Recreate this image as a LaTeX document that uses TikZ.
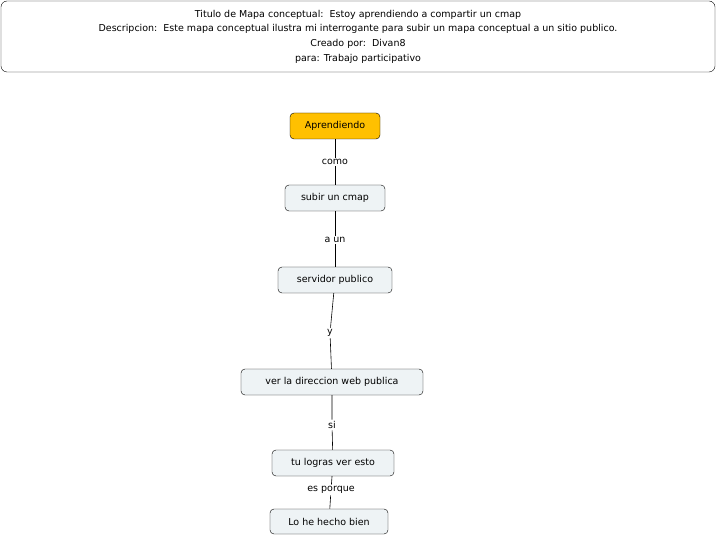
\documentclass[tikz,border=0pt]{standalone}
\usepackage{fontspec}
\setmainfont{DejaVu Sans}
\begin{document}
\begin{tikzpicture}[x=1pt,y=1pt,
  box/.style={draw=black,rounded corners=4pt,fill=boxfill,font=\fontsize{9.5}{11}\selectfont,minimum height=26pt,inner sep=0pt},
  lab/.style={font=\fontsize{9.5}{11}\selectfont,inner sep=1.5pt,fill=white},
  con/.style={draw=black,line width=0.6pt}]
\definecolor{boxfill}{HTML}{EEF3F5}
\definecolor{orng}{HTML}{FFC000}
\useasboundingbox (0,0) rectangle (717,536);
\node[draw=black,rounded corners=6pt,minimum width=714pt,minimum height=71pt,align=center,font=\fontsize{9.5}{14.7}\selectfont,inner sep=0pt] (hdr) at (358,499.5)
 {Titulo de Mapa conceptual:\ \ Estoy aprendiendo a compartir un cmap\\
  Descripcion:\ \ Este mapa conceptual ilustra mi interrogante para subir un mapa conceptual a un sitio publico.\\
  Creado por:\ \ Divan8\\ para: Trabajo participativo};
\node[box,fill=orng,minimum width=90pt] (a) at (335,410) {Aprendiendo};
\node[box,minimum width=100pt] (b) at (335,338) {subir un cmap};
\node[box,minimum width=114pt] (c) at (335,256) {servidor publico};
\node[box,minimum width=182pt] (d) at (332,154) {ver la direccion web publica};
\node[box,minimum width=122pt] (e) at (333,73) {tu logras ver esto};
\node[box,minimum width=118pt,minimum height=25pt] (f) at (329,14.5) {Lo he hecho bien};
\node[lab] (l1) at (335,374) {como};
\node[lab] (l2) at (335,296) {a un};
\node[lab] (l3) at (330,203) {y};
\node[lab] (l4) at (332,111) {si};
\node[lab] (l5) at (331,46) {es porque};
\draw[con] (a) -- (l1) -- (b);
\draw[con] (b) -- (l2) -- (c);
\draw[con] (c) -- (l3) -- (d);
\draw[con] (d) -- (l4) -- (e);
\draw[con] (e) -- (l5) -- (f);
\end{tikzpicture}
\end{document}
